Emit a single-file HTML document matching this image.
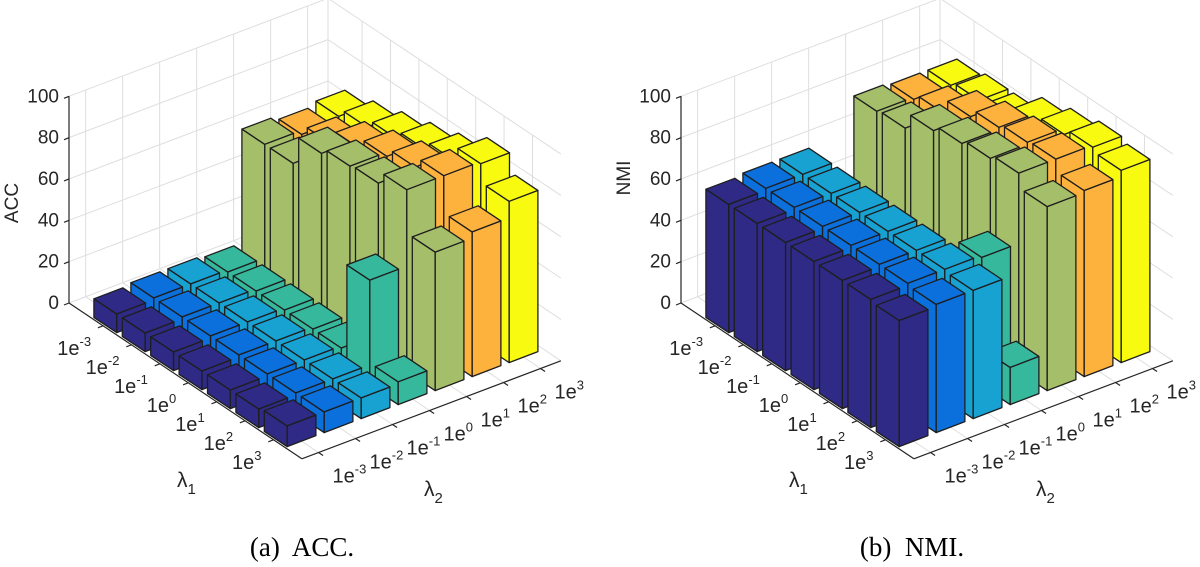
<!DOCTYPE html>
<html>
<head>
<meta charset="utf-8">
<style>
  html,body{margin:0;padding:0;background:#fff;}
  svg{display:block;}
  text{font-family:"Liberation Sans",sans-serif;fill:#262626;}
  .cap{font-family:"Liberation Serif",serif;fill:#000;font-size:27px;}
</style>
</head>
<body>
<svg id="fig" width="1200" height="567" viewBox="0 0 1200 567" xmlns="http://www.w3.org/2000/svg">
  <g id="chartA"></g>
  <g id="chartB"></g>
  <text class="cap" x="302" y="556" text-anchor="middle">(a)&#160; ACC.</text>
  <text class="cap" x="912" y="556" text-anchor="middle">(b)&#160; NMI.</text>
</svg>
<script>
// ---- data ----
const lambdaExps = ['-3','-2','-1','0','1','2','3'];
const zTicks = [0, 20, 40, 60, 80, 100];
// ACC values per lambda2 column, rows = lambda1 (1e-3 .. 1e3)
const accL2m3 = [9, 9, 9, 9, 9, 9, 10];
const accL2m2 = [10, 10, 10, 10, 10, 10, 10];
const accL2m1 = [10, 10, 10, 10, 10, 10, 10];
const accL2p0 = [9, 9, 9, 9, 9, 51, 11];
const accL2p1 = [64, 64, 78, 81, 82, 88, 67];
const accL2p2 = [62, 67, 74, 79, 83, 88, 70];
const accL2p3 = [64, 68, 72, 76, 80, 87, 78];
// NMI values
const nmiL2m3 = [62, 62, 62, 62, 62, 62, 61];
const nmiL2m2 = [63, 63, 63, 63, 63, 63, 62];
const nmiL2m1 = [63, 63, 63, 63, 63, 63, 62];
const nmiL2p0 = [10, 10, 10, 10, 10, 62, 18];
const nmiL2p1 = [80, 81, 89, 92, 94, 96, 89];
const nmiL2p2 = [79, 82, 89, 93, 95, 96, 90];
const nmiL2p3 = [79, 81, 81, 88, 92, 95, 93];

const colColors = ['#2e2a85','#0b6fdc','#18a2d2','#36b89c','#a5be6a','#fdb23e','#f8fa10'];
const NS = 'http://www.w3.org/2000/svg';

function mk(tag, attrs, parent){
  const e = document.createElementNS(NS, tag);
  for (const k in attrs) e.setAttribute(k, attrs[k]);
  parent.appendChild(e);
  return e;
}

function drawChart(g, xoff, cols, zTitle){
  const U = [28.4, 19.0], V = [37.0, -14.0], ZS = 2.067;
  const OX = 69 + xoff, OY = 303;
  const UMAX = 8.2, VMAX = 7.0;
  const P = (u, v, z) => [OX + u*U[0] + v*V[0], OY + u*U[1] + v*V[1] - z*ZS];
  const pts = arr => arr.map(p => P(p[0],p[1],p[2]).map(n=>n.toFixed(1)).join(',')).join(' ');
  const line = (a, b, attrs, name) => {
    const p1 = P(a[0],a[1],a[2]), p2 = P(b[0],b[1],b[2]);
    const l = mk('line', Object.assign({x1:p1[0],y1:p1[1],x2:p2[0],y2:p2[1]}, attrs), g);
    
    
    return l;
  };
  const uC = k => 1.2 + k;
  const vC = k => 0.45 + k;
  const grid = {stroke:'#dedede','stroke-width':1};
  zTicks.forEach(z => {
    line([0,0,z],[0,VMAX,z], grid, 'grid-line');
    line([0,VMAX,z],[UMAX,VMAX,z], grid, 'grid-line');
  });
  for (let k=0;k<7;k++){
    line([0,vC(k),0],[0,vC(k),100], grid, 'grid-line');
    line([uC(k),VMAX,0],[uC(k),VMAX,100], grid, 'grid-line');
    line([0,vC(k),0],[UMAX,vC(k),0], grid, 'grid-line');
    line([uC(k),0,0],[uC(k),VMAX,0], grid, 'grid-line');
  }
  line([0,VMAX,0],[0,VMAX,100], grid, 'grid-line');
  const ax = {stroke:'#262626','stroke-width':1.2};
  line([0,0,0],[0,0,100], ax, 'z-axis');
  line([0,0,0],[UMAX,0,0], ax, 'lambda1-axis');
  line([UMAX,0,0],[UMAX,VMAX,0], ax, 'lambda2-axis');
  zTicks.forEach(z => {
    const p = P(0,0,z);
    const t = mk('line',{x1:p[0],y1:p[1],x2:p[0]-5,y2:p[1]+2,stroke:'#262626','stroke-width':1.2},g);
    
    
    const tx = mk('text',{x:p[0]-10,y:p[1]+6,'text-anchor':'end','font-size':'19'},g);
    tx.textContent = String(z);
    
    
  });
  for (let k=0;k<7;k++){
    line([uC(k),0,0],[uC(k),-0.14,0], ax, 'lambda1-tick');
    line([UMAX,vC(k),0],[UMAX+0.16,vC(k),0], ax, 'lambda2-tick');
    const p1 = P(uC(k),0,0);
    const t1 = mk('text',{x:p1[0]-12,y:p1[1]+29,'text-anchor':'end','font-size':'20'},g);
    
    
    t1.appendChild(document.createTextNode('1e'));
    const s1 = mk('tspan',{dy:'-9','font-size':'13'},t1); s1.textContent = lambdaExps[k];
    const p2 = P(UMAX,vC(k),0);
    const t2 = mk('text',{x:p2[0]+14,y:p2[1]+30,'text-anchor':'start','font-size':'20'},g);
    
    
    t2.appendChild(document.createTextNode('1e'));
    const s2 = mk('tspan',{dy:'-9','font-size':'13'},t2); s2.textContent = lambdaExps[k];
  }
  const zt = mk('text',{x:0,y:0,'text-anchor':'middle','font-size':'19',transform:`translate(${xoff+18},${xoff?178:203}) rotate(-90)`},g);
  zt.textContent = zTitle;
  
  
  const l1 = mk('text',{x:xoff+177,y:487,'font-size':'21'},g);
  
  
  l1.appendChild(document.createTextNode('λ'));
  const l1s = mk('tspan',{dy:'7','font-size':'15'},l1); l1s.textContent='1';
  const l2 = mk('text',{x:xoff+424,y:496,'font-size':'21'},g);
  
  
  l2.appendChild(document.createTextNode('λ'));
  const l2s = mk('tspan',{dy:'7','font-size':'15'},l2); l2s.textContent='2';
  const hu = 0.4, hv = 0.39;
  for (let ku=0; ku<7; ku++){
    for (let kv=6; kv>=0; kv--){
      const z = cols[kv][ku];
      const u0 = uC(ku)-hu, u1 = uC(ku)+hu, v0 = vC(kv)-hv, v1 = vC(kv)+hv;
      const bar = mk('g',{fill:colColors[kv],stroke:'#1e1e1e','stroke-width':1.3,'stroke-linejoin':'round'},g);
      
      
      mk('polygon',{points:pts([[u1,v0,0],[u1,v1,0],[u1,v1,z],[u1,v0,z]])},bar);
      mk('polygon',{points:pts([[u0,v0,0],[u1,v0,0],[u1,v0,z],[u0,v0,z]])},bar);
      mk('polygon',{points:pts([[u0,v0,z],[u1,v0,z],[u1,v1,z],[u0,v1,z]])},bar);
    }
  }
}

drawChart(document.getElementById('chartA'), 0,
  [accL2m3, accL2m2, accL2m1, accL2p0, accL2p1, accL2p2, accL2p3], 'ACC');
drawChart(document.getElementById('chartB'), 612,
  [nmiL2m3, nmiL2m2, nmiL2m1, nmiL2p0, nmiL2p1, nmiL2p2, nmiL2p3], 'NMI');
</script>
</body>
</html>
